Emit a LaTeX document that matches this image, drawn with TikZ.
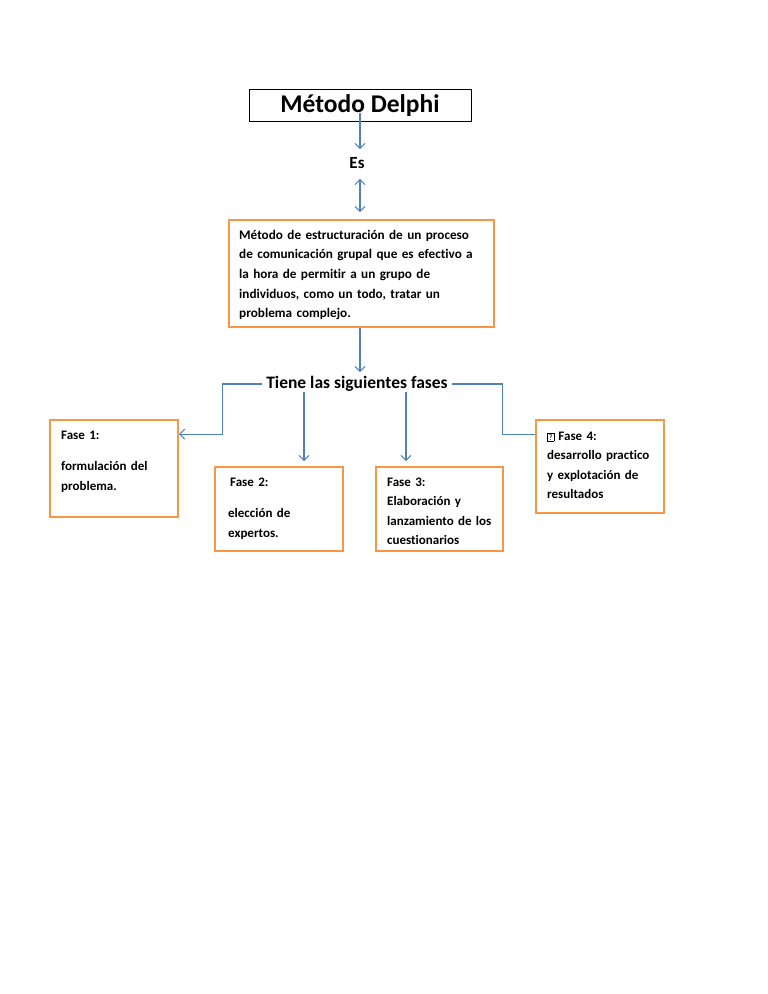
\documentclass[tikz,border=0pt]{standalone}
\usepackage{fontspec}
\setmainfont{Carlito}[RawFeature={-liga}]
\usepackage{tikz}
\usetikzlibrary{arrows.meta,positioning}
\definecolor{boxorange}{RGB}{247,150,70}
\definecolor{linkblue}{RGB}{79,129,189}
\newcommand{\qbox}{{\setlength{\fboxsep}{1pt}\setlength{\fboxrule}{0.5pt}\fbox{\fontsize{8.5}{8.5}\selectfont\mdseries ?}}}

\begin{document}
\begin{tikzpicture}[x=1pt, y=-1pt,
    fasebox/.style={rectangle, draw=boxorange, line width=1.8pt, inner sep=0pt},
    fasetext/.style={anchor=base west, align=left, inner sep=0pt, font=\bfseries\fontsize{13}{19.5}\selectfont},
    arrow/.style={-{Straight Barb[length=5pt,width=10pt]}, draw=linkblue, line width=1.1pt},
    link/.style={draw=linkblue, line width=1.1pt}
]
    \fill[white] (0,0) rectangle (768,994);
    \useasboundingbox (0,0) rectangle (768,994);

    % title and definition
    \node[draw=black, line width=0.8pt, minimum width=222pt, minimum height=32pt, inner sep=0pt,
          font=\bfseries\fontsize{25.5}{28}\selectfont] (title) at (360,105.5) {Método Delphi};
    \node[inner sep=0pt, font=\bfseries\fontsize{17}{20}\selectfont] (es) at (357,163) {Es};
    \node[fasebox, minimum width=265pt, minimum height=107pt] (desc) at (361.5,273.5) {};
    \node[fasetext, text width=255pt, font=\bfseries\fontsize{13.2}{19.7}\selectfont] (desctxt) at (239,239)
        {Método de estructuración de un proceso\\de comunicación grupal que es efectivo a\\la hora de permitir a un grupo de\\individuos, como un todo, tratar un\\problema complejo.};
    \node[inner xsep=4pt, inner ysep=0pt, font=\bfseries\fontsize{17.5}{20}\selectfont] (tiene) at (357,384) {Tiene las siguientes fases};

    % phases
    \node[fasebox, minimum width=128pt, minimum height=97pt] (f1) at (114,468.5) {};
    \node[fasebox, minimum width=128pt, minimum height=84pt] (f2) at (279,509) {};
    \node[fasebox, minimum width=127pt, minimum height=84pt] (f3) at (439.5,509) {};
    \node[fasebox, minimum width=128pt, minimum height=93pt] (f4) at (600,466.5) {};

    \node[fasetext, text width=118pt] (f1txt) at (61,439) {Fase 1:\\[12pt]formulación del\\problema.};
    \node[fasetext, text width=118pt] (f2txt) at (228,486) {\hspace{2pt}Fase 2:\\[12pt]elección de\\expertos.};
    \node[fasetext, text width=118pt] (f3txt) at (387,486) {Fase 3:\\Elaboración y\\lanzamiento de los\\cuestionarios};
    \node[fasetext, text width=118pt] (f4txt) at (547,440) {\qbox{} Fase 4:\\desarrollo practico\\y explotación de\\resultados};

    % connectors
    \draw[arrow, shorten <=7pt, shorten >=8pt] (title.center -| 360,0) -- (360,0 |- es.north);
    \draw[arrow, {Straight Barb[length=5pt,width=10pt]}-{Straight Barb[length=5pt,width=10pt]}, shorten <=10pt, shorten >=7pt] (360,0 |- es.south) -- (360,0 |- desc.north);
    \draw[arrow, shorten >=4pt] (360,0 |- desc.south) -- (360,0 |- tiene.north);
    \draw[arrow] (tiene.west) -- ++(-40,0) |- ([yshift=-15pt]f1.north east);
    \draw[arrow, shorten >=5pt] (304,0 |- tiene.south) -- (304,0 |- f2.north);
    \draw[arrow, shorten >=5pt] (406,0 |- tiene.south) -- (406,0 |- f3.north);
    \draw[link] (tiene.east) -- ++(51,0) |- ([yshift=-15pt]f4.north west);
\end{tikzpicture}
\end{document}
